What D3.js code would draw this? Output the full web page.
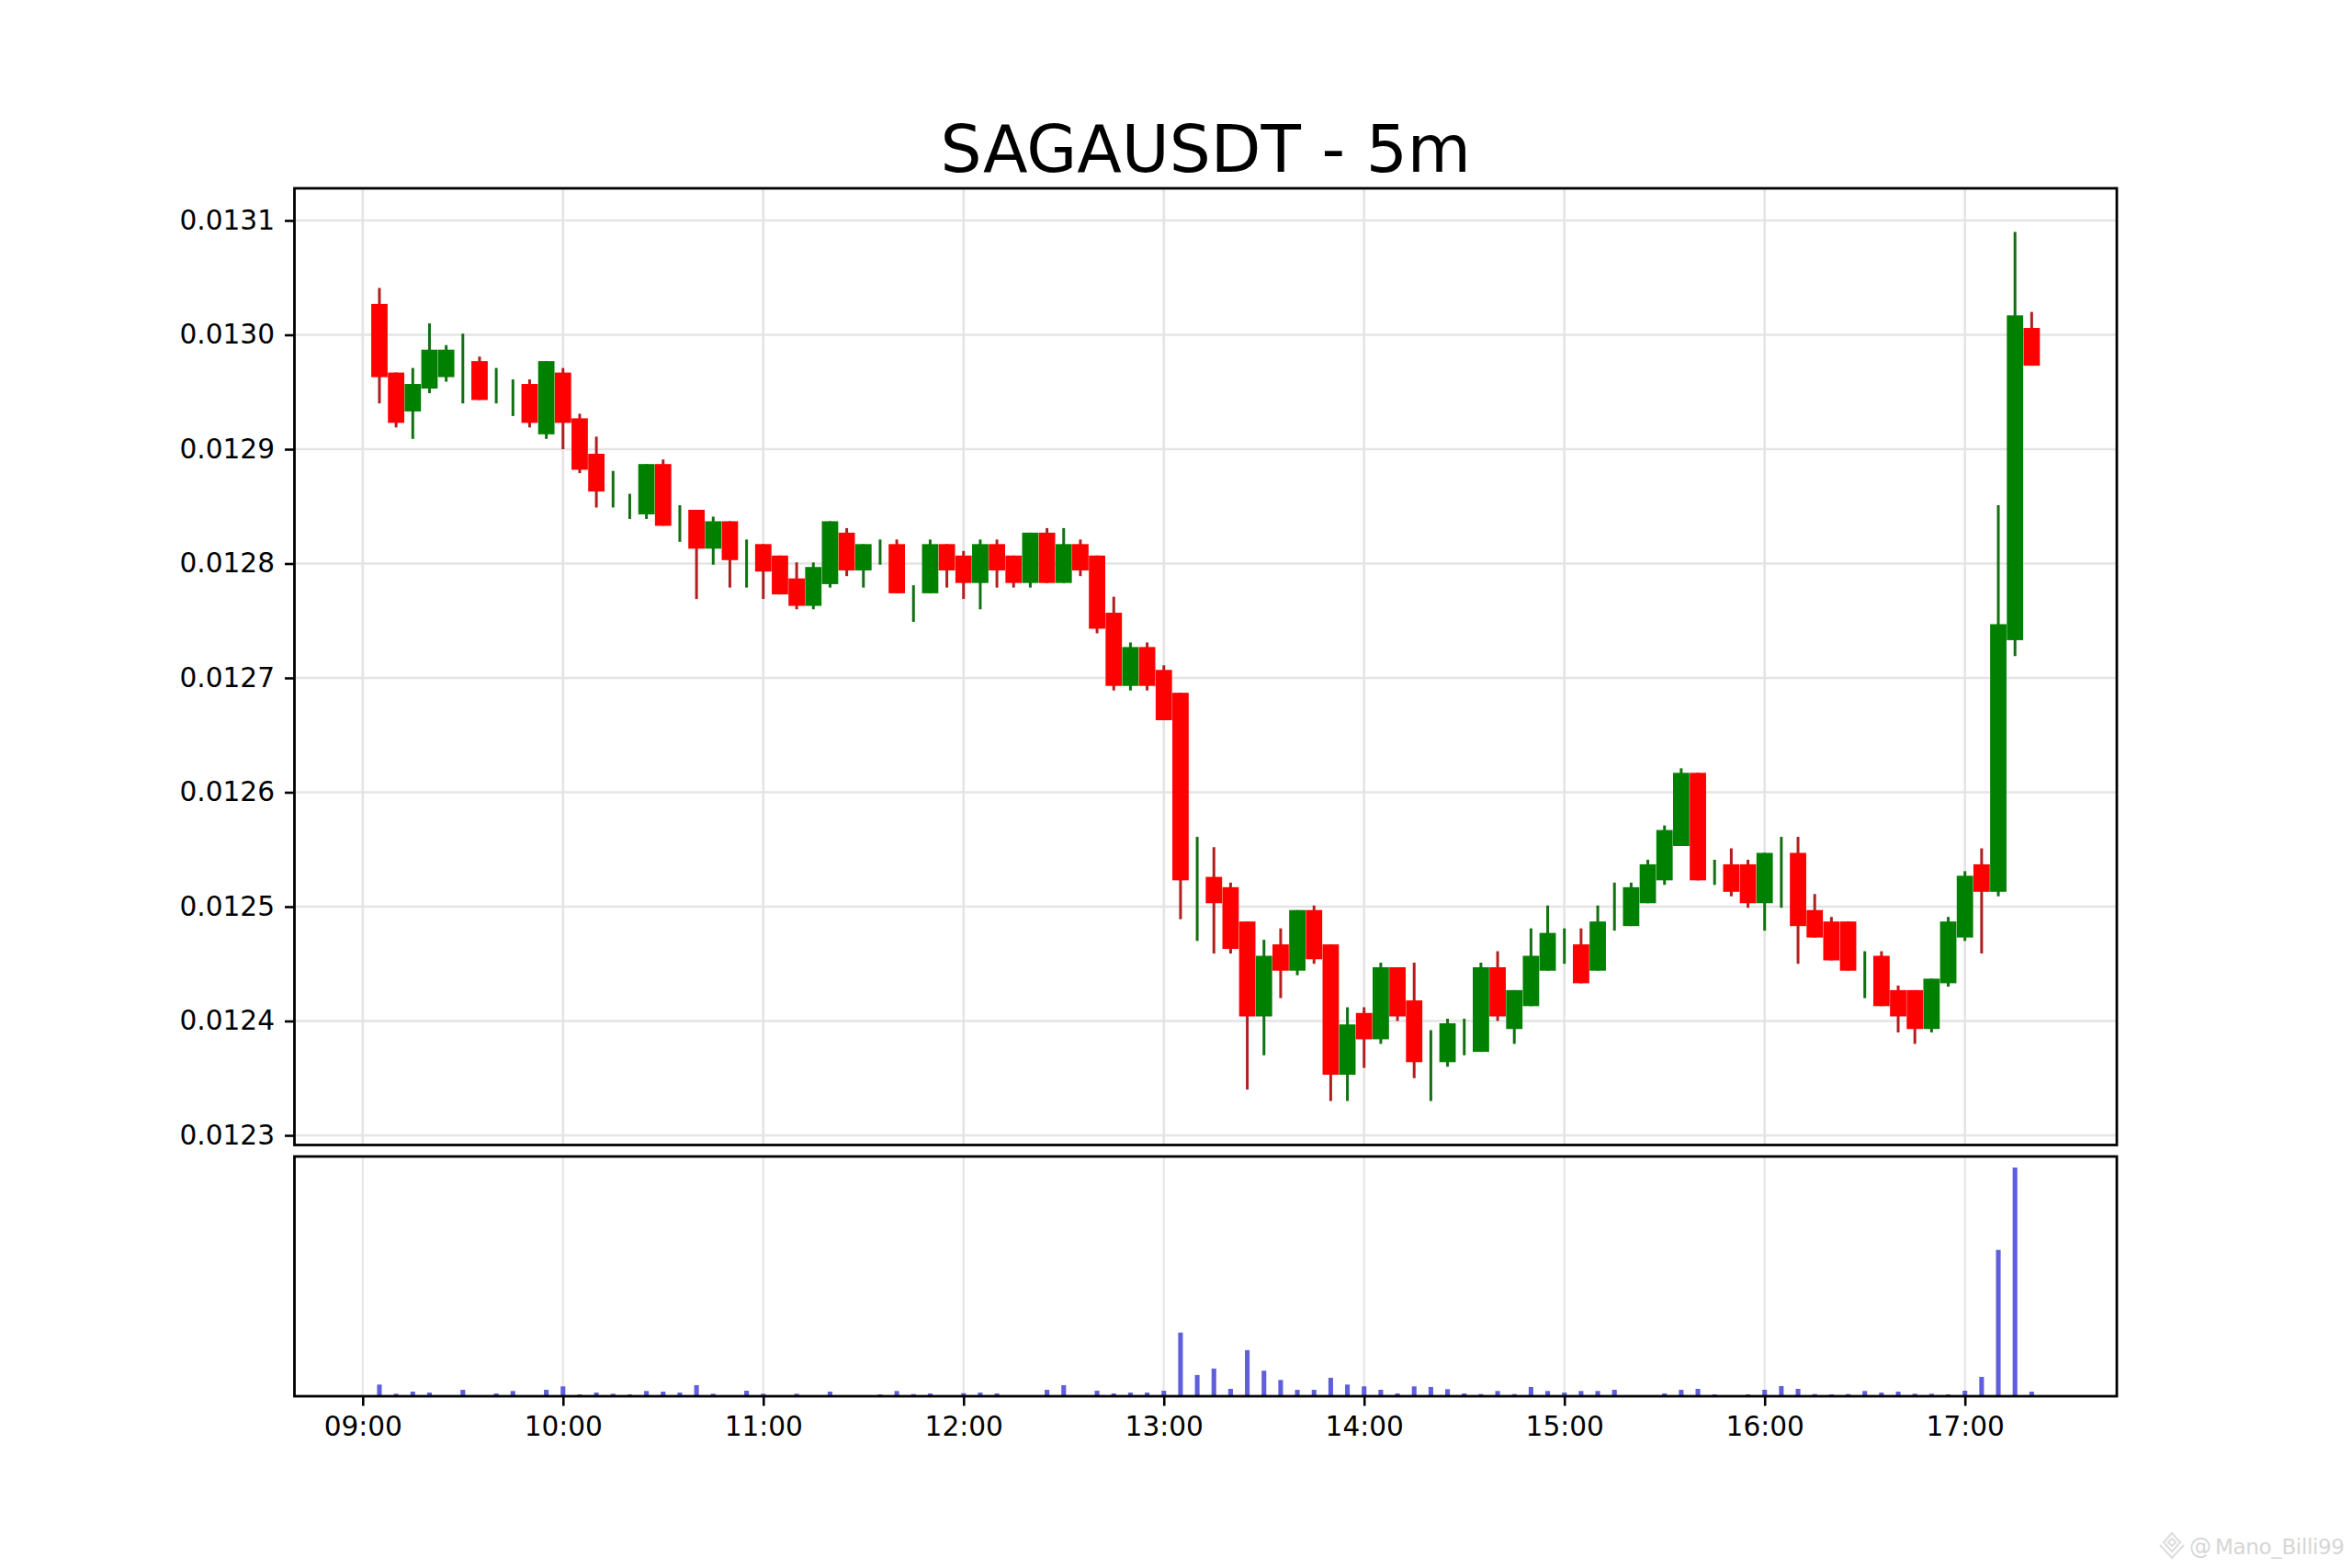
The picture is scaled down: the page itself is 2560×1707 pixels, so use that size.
<!DOCTYPE html>
<html>
<head>
<meta charset="utf-8">
<script src="https://cdn.jsdelivr.net/npm/d3@7/dist/d3.min.js"></script>
<style>
html,body{margin:0;padding:0;background:#fff;}
svg{display:block;}
text{font-family:"DejaVu Sans",sans-serif;}
</style>
</head>
<body>
<svg id="chart" width="2560" height="1707"></svg>
<script>
// Prices are in millionths (13027 = 0.013027). Candle n closes at 09:00 + 5n minutes.
const opens=[13027,12967,12933,12953,12963,12970,12977,12955,12945,12957,
12913,12967,12927,12896,12865,12850,12843,12887,12835,12847,
12813,12837,12800,12817,12807,12787,12763,12782,12827,12794,
12810,12817,12765,12774,12817,12807,12783,12817,12807,12783,
12827,12783,12817,12807,12757,12693,12727,12707,12687,12515,
12526,12517,12487,12404,12467,12444,12497,12467,12353,12407,
12384,12447,12418,12360,12364,12385,12373,12447,12393,12413,
12444,12465,12467,12444,12500,12483,12503,12523,12553,12617,
12530,12537,12537,12503,12530,12547,12497,12487,12487,12440,
12457,12427,12427,12393,12433,12473,12537,12513,12733,13006];
const closes=[12963,12923,12957,12987,12987,12970,12943,12955,12945,12923,
12977,12923,12882,12863,12865,12850,12887,12833,12835,12813,
12837,12803,12800,12793,12773,12763,12797,12837,12794,12817,
12810,12774,12765,12817,12794,12783,12817,12794,12783,12827,
12783,12817,12794,12743,12693,12727,12693,12663,12523,12515,
12503,12463,12404,12457,12444,12497,12454,12353,12397,12384,
12447,12404,12364,12360,12398,12385,12447,12404,12427,12457,
12477,12465,12433,12487,12500,12517,12537,12567,12617,12523,
12530,12513,12503,12547,12530,12483,12473,12453,12444,12440,
12413,12404,12393,12437,12487,12527,12513,12747,13017,12973];
const highs=[13041,12967,12971,13010,12991,13001,12981,12971,12961,12961,
12977,12971,12931,12911,12881,12861,12887,12891,12851,12847,
12841,12837,12821,12817,12807,12801,12801,12837,12831,12817,
12821,12821,12781,12821,12817,12811,12821,12821,12807,12827,
12831,12831,12821,12807,12771,12731,12731,12711,12687,12561,
12552,12521,12487,12471,12481,12497,12501,12467,12412,12412,
12451,12447,12451,12392,12402,12402,12451,12461,12427,12481,
12501,12481,12481,12501,12521,12521,12541,12571,12621,12617,
12541,12551,12541,12547,12561,12561,12511,12491,12487,12461,
12461,12431,12427,12437,12491,12531,12551,12851,13090,13020];
const lows=[12940,12919,12909,12949,12959,12940,12943,12940,12929,12919,
12909,12900,12879,12849,12849,12839,12839,12833,12819,12769,
12799,12779,12779,12769,12773,12760,12760,12779,12789,12779,
12799,12774,12749,12774,12779,12769,12760,12779,12779,12779,
12783,12783,12789,12739,12689,12689,12689,12663,12489,12470,
12459,12459,12340,12370,12420,12440,12450,12330,12330,12359,
12380,12400,12350,12330,12360,12370,12373,12400,12380,12413,
12444,12450,12433,12444,12479,12483,12503,12519,12553,12523,
12519,12509,12499,12479,12499,12450,12473,12453,12444,12420,
12413,12390,12380,12390,12430,12470,12459,12509,12719,12973];
const volumes=[38,8,15,12,3,21,1,9,17,3,
21,32,6,12,8,6,17,15,12,36,
8,3,18,8,3,8,1,15,1,3,
6,17,7,9,1,10,12,9,1,3,
21,36,1,18,9,12,12,18,207,69,
90,24,150,83,53,21,21,60,38,32,
21,9,32,30,23,9,7,17,7,30,
17,12,17,17,21,3,3,9,21,24,
6,1,6,21,33,24,7,6,7,17,
12,15,8,8,6,18,63,476,744,15];
const priceTicks=[12300,12400,12500,12600,12700,12800,12900,13000,13100];
const hourTicks=["09:00","10:00","11:00","12:00","13:00","14:00","15:00","16:00","17:00"];
const titleText="SAGAUSDT - 5m";
const watermarkText="Mano_Billi99";

const C={up:"#008000",down:"#ff0000",upWick:"#127012",downWick:"#b01f1f",vol:"#5f5fdc",grid:"#e4e4e4"};
const L={left:320.5,right:2304,mainTop:205,mainBottom:1246.5,volTop:1259,volBottom:1520};

const parse=d3.utcParse("%H:%M");
const fmt=d3.utcFormat("%H:%M");
const hourDates=hourTicks.map(parse);
const x=d3.scaleUtc().domain([hourDates[0],hourDates[hourDates.length-1]]).range([394.8,2138.7]);
const y=d3.scaleLinear().domain([12300,13100]).range([1236,240]);
const v=d3.scaleLinear().domain([0,780]).range([L.volBottom,L.volTop]);

const candles=opens.map((o,i)=>({
  t:d3.utcMinute.offset(hourDates[0],5*(i+1)),o,c:closes[i],h:highs[i],l:lows[i],vol:volumes[i]
}));
const minutesToPx=m=>x(new Date(+hourDates[0]+m*60000))-x(hourDates[0]);
const bodyW=minutesToPx(4.9);
const volW=minutesToPx(1.4);

const svg=d3.select("#chart");
svg.append("rect").attr("width",2560).attr("height",1707).attr("fill","#fff");

// grid: main
const gMain=svg.append("g");
gMain.selectAll("line.h").data(priceTicks).join("line").attr("class","h")
  .attr("x1",L.left).attr("x2",L.right).attr("y1",d=>y(d)).attr("y2",d=>y(d))
  .attr("stroke",C.grid).attr("stroke-width",2.6);
gMain.selectAll("line.v").data(hourDates).join("line").attr("class","v")
  .attr("x1",d=>x(d)).attr("x2",d=>x(d)).attr("y1",L.mainTop).attr("y2",L.mainBottom)
  .attr("stroke",C.grid).attr("stroke-width",2.6);
// grid: volume
const gVol=svg.append("g");
gVol.selectAll("line").data(hourDates).join("line")
  .attr("x1",d=>x(d)).attr("x2",d=>x(d)).attr("y1",L.volTop).attr("y2",L.volBottom)
  .attr("stroke",C.grid).attr("stroke-width",2);

// candles
const gC=svg.append("g");
gC.selectAll("line").data(candles).join("line")
  .attr("x1",d=>x(d.t)).attr("x2",d=>x(d.t)).attr("y1",d=>y(d.h)).attr("y2",d=>y(d.l))
  .attr("stroke",d=>d.c>=d.o?C.upWick:C.downWick).attr("stroke-width",3);
gC.selectAll("rect").data(candles.filter(d=>d.c!==d.o)).join("rect")
  .attr("x",d=>x(d.t)-bodyW/2).attr("width",bodyW)
  .attr("y",d=>y(Math.max(d.o,d.c))).attr("height",d=>Math.abs(y(d.o)-y(d.c)))
  .attr("fill",d=>d.c>=d.o?C.up:C.down);

// volume bars
svg.append("g").selectAll("rect").data(candles).join("rect")
  .attr("x",d=>x(d.t)-volW/2).attr("width",volW)
  .attr("y",d=>v(d.vol)).attr("height",d=>L.volBottom-v(d.vol))
  .attr("fill",C.vol);

// frames
[[L.mainTop,L.mainBottom],[L.volTop,L.volBottom]].forEach(([a,b])=>{
  svg.append("rect").attr("x",L.left).attr("y",a).attr("width",L.right-L.left).attr("height",b-a)
    .attr("fill","none").attr("stroke","#000").attr("stroke-width",2.8);
});

// axes
const yAxis=d3.axisLeft(y).tickValues(priceTicks).tickSize(10.5).tickPadding(11)
  .tickFormat(d=>(d/1e6).toFixed(4));
const gy=svg.append("g").attr("transform",`translate(${L.left},0)`).call(yAxis);
const xAxis=d3.axisBottom(x).tickValues(hourDates).tickSize(10.5).tickPadding(11).tickFormat(fmt);
const gx=svg.append("g").attr("transform",`translate(0,${L.volBottom})`).call(xAxis);
[gy,gx].forEach(g=>{
  g.select(".domain").remove();
  g.selectAll(".tick line").attr("stroke","#000").attr("stroke-width",2.6);
  g.selectAll(".tick text").attr("fill","#000").style("font-family",'"DejaVu Sans",sans-serif').style("font-size","29.6px");
});

// title
svg.append("text").attr("x",(L.left+L.right)/2).attr("y",187).attr("text-anchor","middle")
  .style("font-size","71px").attr("fill","#000").text(titleText);

// watermark
const wm=svg.append("g").attr("fill","none").attr("stroke","#dcdcdc").attr("stroke-width",2.2).attr("opacity",0.95);
wm.append("path").attr("d","M2364 1669 L2373 1679 L2364 1689 L2355 1679 Z M2364 1675 L2368 1679 L2364 1683 L2360 1679 Z M2351 1682 L2364 1696 L2377 1682");
svg.append("text").attr("x",2383).attr("y",1692).attr("fill","#d6d6d6")
  .style("font-family",'"DejaVu Sans",sans-serif').style("font-size","24px").text("@");
svg.append("text").attr("x",2411).attr("y",1692).attr("fill","#d6d6d6")
  .style("font-family",'"DejaVu Sans",sans-serif').style("font-size","23px").attr("textLength",141).text(watermarkText);
</script>
</body>
</html>
